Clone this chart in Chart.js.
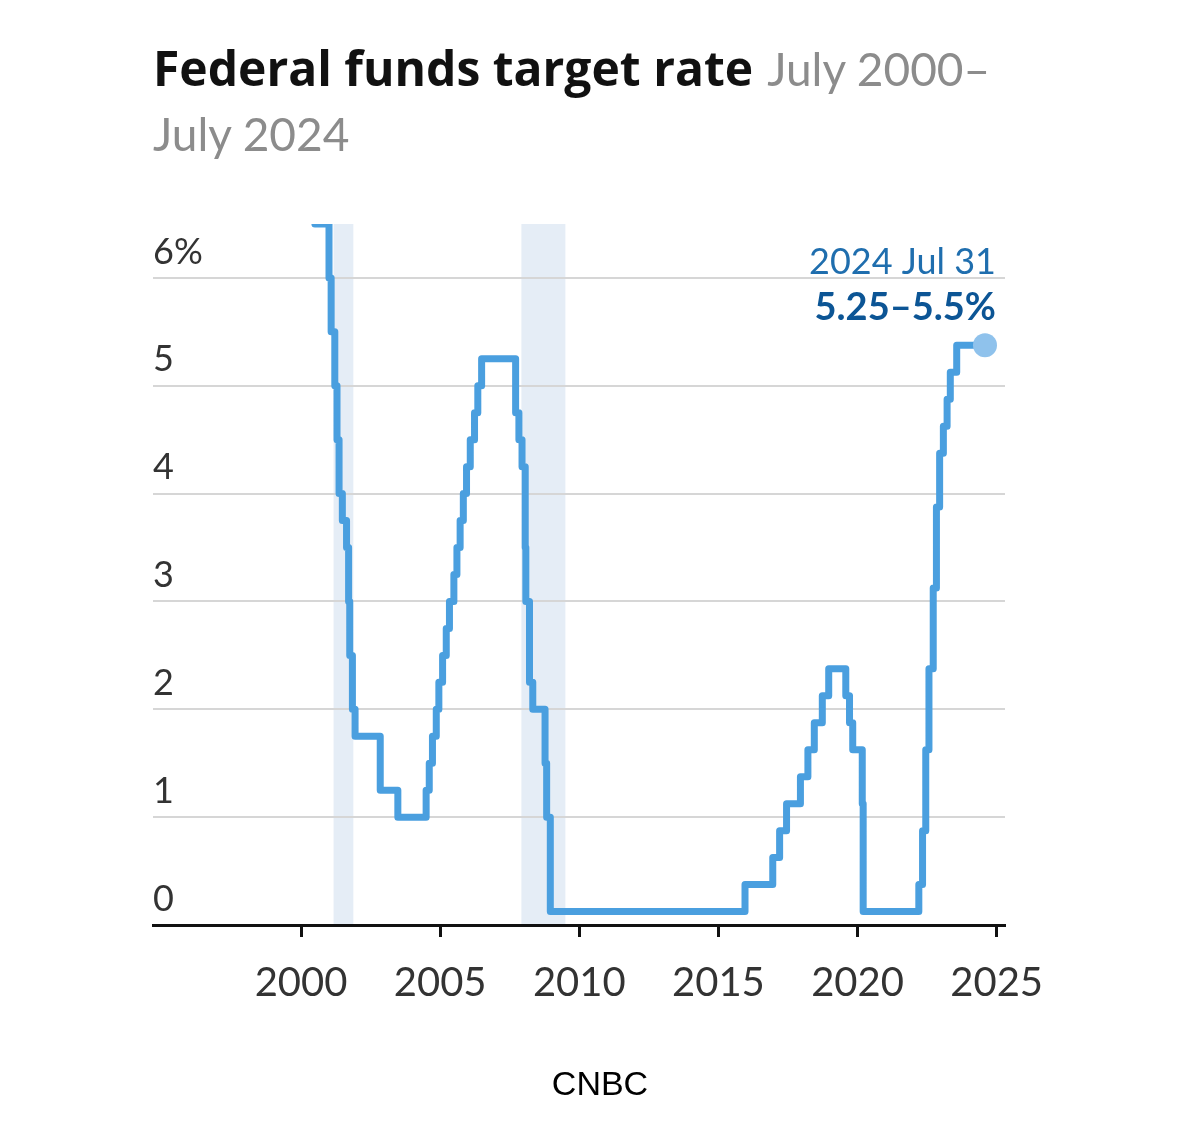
<!DOCTYPE html>
<html>
<head>
<meta charset="utf-8">
<script src="https://cdn.jsdelivr.net/npm/chart.js@4.4.1/dist/chart.umd.min.js"></script>
<style>
  html, body { margin: 0; padding: 0; background: #fff; }
  #wrap { position: relative; width: 1200px; height: 1125px; }
  .tline { position: absolute; left: 153px; width: 1000px; height: 65px; line-height: 65px; white-space: nowrap; }
  .tline b { font-family: "Open Sans", sans-serif; font-size: 48px; font-weight: 700; color: #111; }
  .tline span { font-family: Lato, sans-serif; font-size: 46px; color: #8c8c8c; }
  #foot { position: absolute; left: 0; width: 1200px; top: 1064px; text-align: center; font-family: "Liberation Sans", Arial, sans-serif; font-size: 34px; color: #000; }
  canvas { position: absolute; left: 0; top: 0; }
</style>
</head>
<body>
<div id="wrap">
  <canvas id="rateChart" width="1200" height="1125"></canvas>
  <div class="tline" style="top: 35px;"><b>Federal funds target rate</b><span style="margin-left: 14px;">July 2000–</span></div>
  <div class="tline" style="top: 101px;"><span>July 2024</span></div>
  <div id="foot">CNBC</div>
</div>
<script>
// ========== DATA ==========
// change dates of the target rate (midpoint of range after Dec 2008)
var rateDates = [
  "2000-07-01", "2001-01-03", "2001-01-31", "2001-03-20", "2001-04-18", "2001-05-15",
  "2001-06-27", "2001-08-21", "2001-09-17", "2001-10-02", "2001-11-06", "2001-12-11",
  "2002-11-06", "2003-06-25", "2004-06-30", "2004-08-10", "2004-09-21", "2004-11-10",
  "2004-12-14", "2005-02-02", "2005-03-22", "2005-05-03", "2005-06-30", "2005-08-09",
  "2005-09-20", "2005-11-01", "2005-12-13", "2006-01-31", "2006-03-28", "2006-05-10",
  "2006-06-29", "2007-09-18", "2007-10-31", "2007-12-11", "2008-01-22", "2008-01-30",
  "2008-03-18", "2008-04-30", "2008-10-08", "2008-10-29", "2008-12-16", "2015-12-16",
  "2016-12-14", "2017-03-15", "2017-06-14", "2017-12-13", "2018-03-21", "2018-06-13",
  "2018-09-26", "2018-12-19", "2019-07-31", "2019-09-18", "2019-10-30", "2020-03-03",
  "2020-03-15", "2022-03-16", "2022-05-04", "2022-06-15", "2022-07-27", "2022-09-21",
  "2022-11-02", "2022-12-14", "2023-02-01", "2023-03-22", "2023-05-03", "2023-07-26",
  "2024-07-31"
];
var rateValues = [
  6.5, 6.0, 5.5, 5.0, 4.5, 4.0,
  3.75, 3.5, 3.0, 2.5, 2.0, 1.75,
  1.25, 1.0, 1.25, 1.5, 1.75, 2.0,
  2.25, 2.5, 2.75, 3.0, 3.25, 3.5,
  3.75, 4.0, 4.25, 4.5, 4.75, 5.0,
  5.25, 4.75, 4.5, 4.25, 3.5, 3.0,
  2.25, 2.0, 1.5, 1.0, 0.125, 0.375,
  0.625, 0.875, 1.125, 1.375, 1.625, 1.875,
  2.125, 2.375, 2.125, 1.875, 1.625, 1.125,
  0.125, 0.375, 0.875, 1.625, 2.375, 3.125,
  3.875, 4.375, 4.625, 4.875, 5.125, 5.375,
  5.375
];
var recessionStarts = [2001.17, 2007.92];
var recessionEnds = [2001.88, 2009.5];
var xTicks = [2000, 2005, 2010, 2015, 2020, 2025];
var yTicks = [0, 1, 2, 3, 4, 5, 6];
var lastLabel = "2024 Jul 31";
var lastValueLabel = "5.25–5.5%";

function toYear(s) {
  var d = new Date(s + "T00:00:00Z");
  var start = Date.UTC(d.getUTCFullYear(), 0, 1);
  return d.getUTCFullYear() + (d.getTime() - start) / (365 * 86400000);
}

var points = rateDates.map(function (d, i) {
  return { x: toYear(d), y: rateValues[i] };
});
var pointSizes = points.map(function (p, i) { return i === points.length - 1 ? 12 : 0; });

// ========== PLUGINS ==========
var recessionPlugin = {
  id: "recessions",
  beforeDraw: function (chart) {
    var ctx = chart.ctx, x = chart.scales.x, area = chart.chartArea;
    ctx.save();
    ctx.fillStyle = "#e5edf6";
    for (var i = 0; i < recessionStarts.length; i++) {
      var a = x.getPixelForValue(recessionStarts[i]);
      var b = x.getPixelForValue(recessionEnds[i]);
      ctx.fillRect(a, area.top, b - a, area.bottom - area.top);
    }
    ctx.restore();
  }
};

var labelPlugin = {
  id: "lastLabel",
  afterDatasetsDraw: function (chart) {
    var ctx = chart.ctx;
    var meta = chart.getDatasetMeta(0);
    var pt = meta.data[meta.data.length - 1];
    ctx.save();
    ctx.textAlign = "right";
    ctx.textBaseline = "middle";
    ctx.font = "36px Lato, sans-serif";
    ctx.fillStyle = "#1f6eae";
    ctx.fillText(lastLabel, pt.x + 11, pt.y - 83);
    ctx.font = "bold 38px Lato, sans-serif";
    ctx.fillStyle = "#0c5595";
    ctx.fillText(lastValueLabel, pt.x + 11, pt.y - 38);
    ctx.restore();
  }
};

// ========== CHART ==========
new Chart(document.getElementById("rateChart"), {
  type: "line",
  data: {
    datasets: [{
      data: points,
      stepped: true,
      borderColor: "#4a9fdf",
      borderWidth: 7,
      borderCapStyle: "round",
      borderJoinStyle: "round",
      pointRadius: pointSizes,
      pointHoverRadius: pointSizes,
      pointBackgroundColor: "#8fc2ec",
      pointBorderWidth: 0
    }]
  },
  options: {
    responsive: false,
    animation: false,
    layout: { padding: { left: 153, right: 195, top: 224, bottom: 96 } },
    plugins: {
      legend: { display: false },
      tooltip: { enabled: false }
    },
    scales: {
      x: {
        type: "linear",
        min: 1994.68,
        max: 2025.3,
        afterBuildTicks: function (axis) {
          axis.ticks = xTicks.map(function (v) { return { value: v }; });
        },
        grid: { drawOnChartArea: false, drawTicks: true, tickLength: 12, tickWidth: 3, color: "#111" },
        border: { display: true, color: "#111", width: 3 },
        ticks: {
          padding: 22,
          font: { family: "Lato, sans-serif", size: 40 },
          color: "#333",
          callback: function (v) { return String(v); }
        }
      },
      y: {
        min: 0,
        max: 6.5,
        afterBuildTicks: function (axis) {
          axis.ticks = yTicks.map(function (v) { return { value: v }; });
        },
        grid: { color: "#d6d6d6", lineWidth: 2, drawTicks: false },
        border: { display: false },
        ticks: {
          mirror: true,
          padding: 0,
          labelOffset: -26,
          font: { family: "Lato, sans-serif", size: 36 },
          color: "#333",
          callback: function (v) { return v === 6 ? "6%" : String(v); }
        }
      }
    }
  },
  plugins: [recessionPlugin, labelPlugin]
});
</script>
</body>
</html>
